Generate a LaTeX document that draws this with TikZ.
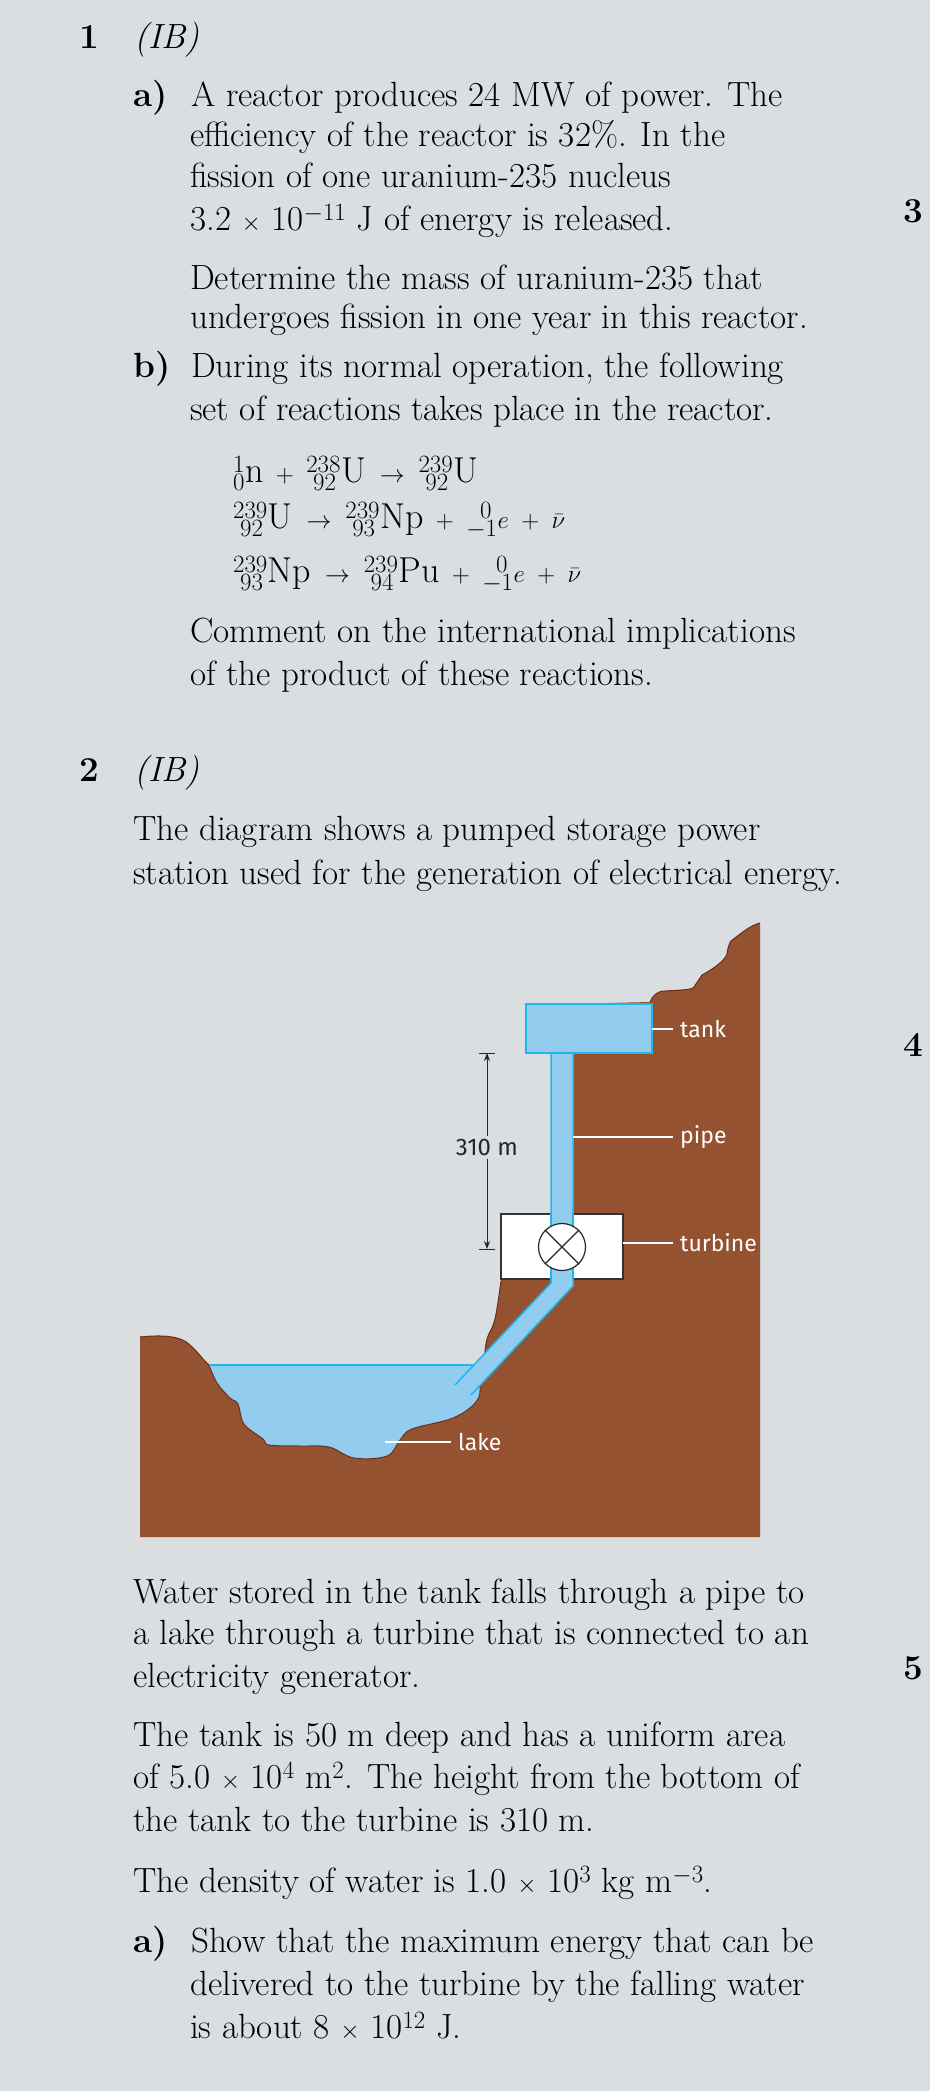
\documentclass[tikz,border=0pt]{standalone}
\usepackage{fontspec}
\setmainfont{Latin Modern Roman}
\newfontfamily\lbl{Fira Sans}
\usetikzlibrary{arrows.meta}
\definecolor{bg}{HTML}{DADEE1}
\definecolor{earth}{HTML}{955230}
\definecolor{earthdk}{HTML}{6B2E18}
\definecolor{water}{HTML}{92CDF0}
\definecolor{cyanl}{HTML}{1DB7EC}
\begin{document}
\begin{tikzpicture}[x=1pt,y=-1pt,
  tx/.style={anchor=base west,inner sep=0pt,font=\fontsize{35}{40}\selectfont},
  eqs/.style={anchor=base west,inner sep=0pt,font=\fontsize{36}{40}\selectfont},
  num/.style={anchor=base west,inner sep=0pt,font=\fontsize{35}{40}\selectfont\bfseries},
  lab/.style={anchor=west,inner sep=0pt,text=white,font=\lbl\fontsize{23}{28}\selectfont},
  lline/.style={white,line width=1.2pt}]
\fill[bg] (0,0) rectangle (930,2091);
% Q1
\node[num] (n1) at (79,48) {1};
\node[tx] (ib1) at (134,48) {\itshape (IB)};
\node[num] (a1) at (133,106) {a)};
\node[tx] (a1l1) at (191,106) {A reactor produces 24 MW of power. The};
\node[tx] (a1l2) at (190,146) {efficiency of the reactor is 32\%. In the};
\node[tx] (a1l3) at (190,187) {fission of one uranium-235 nucleus};
\node[tx] (a1l4) at (190,230) {3.2 $\times$ 10$^{-11}$ J of energy is released.};
\node[num] (m3) at (903,222) {3};
\node[tx] (a1l5) at (190,289) {Determine the mass of uranium-235 that};
\node[tx] (a1l6) at (190,328) {undergoes fission in one year in this reactor.};
\node[num] (b1) at (133,377) {b)};
\node[tx] (b1l1) at (191,377) {During its normal operation, the following};
\node[tx] (b1l2) at (190,420) {set of reactions takes place in the reactor.};
\node[eqs] (eq1) at (233,482) {${}^{1}_{0}\mathrm{n} \;+\; {}^{238}_{\;92}\mathrm{U} \;\rightarrow\; {}^{239}_{\;92}\mathrm{U}$};
\node[eqs] (eq2) at (233,528) {${}^{239}_{\;92}\mathrm{U} \;\rightarrow\; {}^{239}_{\;93}\mathrm{Np} \;+\; {}^{\;\;0}_{-1}e \;+\; \bar{\nu}$};
\node[eqs] (eq3) at (233,582) {${}^{239}_{\;93}\mathrm{Np} \;\rightarrow\; {}^{239}_{\;94}\mathrm{Pu} \;+\; {}^{\;\;0}_{-1}e \;+\; \bar{\nu}$};
\node[tx] (c1) at (190,642) {Comment on the international implications};
\node[tx] (c2) at (190,685) {of the product of these reactions.};
% Q2
\node[num] (n2) at (79,781) {2};
\node[tx] (ib2) at (134,781) {\itshape (IB)};
\node[tx] (d1) at (133,840) {The diagram shows a pumped storage power};
\node[tx] (d2) at (133,884) {station used for the generation of electrical energy.};
\node[num] (m4) at (903,1056) {4};
% ground
\fill[earth] (140,1337) .. controls (160,1335) and (180,1335) .. (190,1345)
  .. controls (198,1352) and (203,1360) .. (209,1365)
  -- plot[smooth,tension=0.6] coordinates {(209,1365) (217,1383) (230,1398) (238,1404) (244,1424) (263,1439) (269,1445) (300,1446) (329,1447) (354,1458) (387,1456) (400,1440) (412,1429) (453,1418) (476,1402) (480,1385) (484,1360) (487,1339) (495,1319) (501,1281)}
  -- (501,1214) -- (562,1214) -- (562,1004)
  -- (650,1002) .. controls (655,990) and (665,991) .. (665,991)
  .. controls (680,990) and (692,990) .. (694,987)
  .. controls (700,978) and (702,975) .. (702,975)
  .. controls (715,968) and (725,960) .. (727,954)
  .. controls (728,945) and (731,941) .. (731,941)
  .. controls (745,930) and (752,925) .. (760,923)
  -- (760,1537) -- (140,1537) -- cycle;
\draw[earthdk,line width=1pt] (140,1337) .. controls (160,1335) and (180,1335) .. (190,1345)
  .. controls (198,1352) and (203,1360) .. (209,1365);
\draw[earthdk,line width=1pt] plot[smooth,tension=0.6] coordinates {(480,1385) (484,1360) (487,1339) (495,1319) (501,1281)};
\draw[earthdk,line width=1pt] (650,1002) .. controls (655,990) and (665,991) .. (665,991)
  .. controls (680,990) and (692,990) .. (694,987)
  .. controls (700,978) and (702,975) .. (702,975)
  .. controls (715,968) and (725,960) .. (727,954)
  .. controls (728,945) and (731,941) .. (731,941)
  .. controls (745,930) and (752,925) .. (760,923);
% lake
\filldraw[fill=water,draw=earthdk,line width=1pt] plot[smooth,tension=0.6] coordinates {(209,1365) (217,1383) (230,1398) (238,1404) (244,1424) (263,1439) (269,1445) (300,1446) (329,1447) (354,1458) (387,1456) (400,1440) (412,1429) (453,1418) (476,1402) (480,1385) (474,1365)} -- cycle;
\draw[cyanl,line width=1.2pt] (209,1365) -- (474,1365);
% pipe
\fill[water] (551,1050) -- (573,1050) -- (573,1286) -- (471,1395) -- (455,1385) -- (551,1283) -- cycle;
\draw[cyanl,line width=1.5pt] (551,1052) -- (551,1283) -- (455,1385);
\draw[cyanl,line width=1.5pt] (573,1052) -- (573,1286) -- (471,1395);
% tank
\node[draw=cyanl,fill=water,line width=1.5pt,minimum width=126pt,minimum height=49pt,inner sep=0pt] (tank) at (589,1028.5) {};
% turbine box
\node[draw=black!80,fill=white,line width=1.2pt,minimum width=122pt,minimum height=65pt,inner sep=0pt] (tbox) at (562,1246.5) {};
\fill[water] (551,1213) rectangle (573,1281);
\draw[cyanl,line width=1.5pt] (551,1213) -- (551,1281) (573,1213) -- (573,1281);
\node[draw=black!85,fill=white,circle,line width=1.2pt,minimum size=47pt,inner sep=0pt] (turb) at (562,1247) {};
\draw[black!85,line width=1.2pt] (turb.north west) -- (turb.south east) (turb.north east) -- (turb.south west);
% dimension
\coordinate (dt) at (487,1053);
\coordinate (db) at (487,1249);
\node[inner sep=3pt,font=\lbl\fontsize{24}{28}\selectfont,text=black!85] (dim) at (487,1147) {310 m};
\draw[black!85,line width=0.8pt,-{Stealth[length=8pt,width=6pt]}] (dim.north) -- (dt);
\draw[black!85,line width=0.8pt,-{Stealth[length=8pt,width=6pt]}] (dim.south) -- (db);
\draw[black!85,line width=0.9pt] (479,1053) -- (495,1053) (479,1249) -- (495,1249);
% labels
\node[lab] (ltank) at (680,1029) {tank};
\draw[lline] (652,1029) -- ([xshift=-7pt]ltank.west);
\node[lab] (lpipe) at (680,1137) {pipe};
\draw[lline] (573,1137) -- ([xshift=-7pt]lpipe.west);
\node[lab] (lturb) at (680,1243) {turbine};
\draw[lline] (623,1243) -- ([xshift=-7pt]lturb.west);
\node[lab] (llake) at (458,1442) {lake};
\draw[lline] (385,1442) -- ([xshift=-7pt]llake.west);
% bottom text
\node[tx] (w1) at (133,1603) {Water stored in the tank falls through a pipe to};
\node[tx] (w2) at (133,1644) {a lake through a turbine that is connected to an};
\node[tx] (w3) at (133,1687) {electricity generator.};
\node[num] (m5) at (903,1679) {5};
\node[tx] (t1) at (133,1746) {The tank is 50 m deep and has a uniform area};
\node[tx] (t2) at (133,1788) {of 5.0 $\times$ 10$^{4}$ m$^{2}$. The height from the bottom of};
\node[tx] (t3) at (133,1831) {the tank to the turbine is 310 m.};
\node[tx] (r1) at (133,1892) {The density of water is 1.0 $\times$ 10$^{3}$ kg m$^{-3}$.};
\node[num] (a2) at (133,1952) {a)};
\node[tx] (a2l1) at (191,1952) {Show that the maximum energy that can be};
\node[tx] (a2l2) at (190,1995) {delivered to the turbine by the falling water};
\node[tx] (a2l3) at (190,2038) {is about 8 $\times$ 10$^{12}$ J.};
\end{tikzpicture}
\end{document}
